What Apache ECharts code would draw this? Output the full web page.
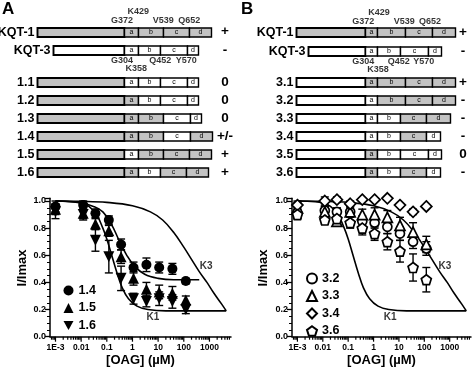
<!DOCTYPE html>
<html><head><meta charset="utf-8">
<script src="https://cdn.jsdelivr.net/npm/echarts@6/dist/echarts.min.js"></script>
<style>html,body{margin:0;padding:0;background:#fff}#c{width:474px;height:372px}</style>
</head><body><div id="c"></div>
<script>
// ---------- construct schematics ----------
const rowsA = ['KQT-1','KQT-3','1.1','1.2','1.3','1.4','1.5','1.6'];
const scoresA = ['+','-','0','0','0','+/-','+','+'];
const originA = [[1,1,1,1],[3,3,3,3],[3,3,3,3],[1,3,3,3],[1,1,3,3],[1,1,3,1],[3,1,1,1],[1,3,1,1]];
const bodyOriginA = [1,3,1,1,1,1,1,1];
const bodyStartA = [0,15.4,0,0,0,0,0,0];
const bodyEndA = 86.7;
const segLenA1 = [14.3,25,26,21.4];
const segLenA3 = [14.3,22,27,11];

const rowsB = ['KQT-1','KQT-3','3.1','3.2','3.3','3.4','3.5','3.6'];
const scoresB = ['+','-','+','-','-','-','0','-'];
const originB = [[1,1,1,1],[3,3,3,3],[1,1,1,1],[3,1,1,1],[3,3,1,1],[3,3,1,3],[1,3,3,3],[1,3,1,3]];
const bodyOriginB = [1,3,3,3,3,3,3,3];
const bodyStartB = [0,11.4,0,0,0,0,0,0];
const bodyEndB = 69;
const segLenB1 = [11.7,28.3,26.7,23.3];
const segLenB3 = [11.7,22.7,28,13.3];

const segNames = ['a','b','c','d'];
const residuesK1 = ['G372','K429','V539','Q652'];
const residuesK3 = ['G304','K358','Q452','Y570'];

// ---------- OAG dose-response ----------
const oag = [0.001,0.012,0.036,0.12,0.36,1.1,3.5,11,36,120];
const y14 = [0.96,0.97,0.91,0.86,0.68,0.51,0.53,0.51,0.50,0.41];
const e14 = [0.04,0.03,0.03,0.03,0.04,0.04,0.05,0.04,0.04,0.02];
const y15 = [0.94,0.91,0.83,0.78,0.59,0.43,0.35,0.33,0.32,0.27];
const e15 = [0.04,0.04,0.04,0.04,0.05,0.05,0.05,0.05,0.05,0.03];
const y16 = [0.92,0.90,0.71,0.59,0.43,0.28,0.26,0.28,0.26,0.20];
const e16 = [0.05,0.04,0.08,0.12,0.09,0.04,0.04,0.05,0.05,0.03];

const y32 = [0.91,0.93,0.92,0.92,0.85,0.84,0.81,0.76,0.70,0.65];
const e32 = [0.04,0.03,0.03,0.03,0.04,0.04,0.05,0.05,0.05,0.05];
const y33 = [0.95,0.92,0.85,0.92,0.90,0.90,0.88,0.82,0.77,0.68];
const e33 = [0.04,0.04,0.03,0.04,0.04,0.05,0.05,0.06,0.07,0.06];
const y34 = [0.97,1.00,1.01,0.98,1.01,1.01,1.02,0.97,0.92,0.96];
const e34 = [0.03,0.03,0.02,0.02,0.01,0.01,0.01,0.01,0.02,0];
const y36 = [0.90,0.86,0.87,0.84,0.80,0.76,0.70,0.63,0.51,0.42];
const e36 = [0.03,0.03,0.04,0.04,0.05,0.05,0.06,0.08,0.10,0.09];

// fitted curves
const k1X = [0.001,0.005,0.01,0.02,0.04,0.07,0.1,0.15,0.25,0.4,0.7,1.5,4,20,4500];
const k1Y = [1.0,0.995,0.985,0.96,0.90,0.80,0.72,0.61,0.47,0.36,0.28,0.225,0.20,0.19,0.19];
const k3X = [0.001,0.01,0.1,1,5,15,40,100,200,400,800,1500,3000,4500];
const k3Y = [1.0,0.998,0.99,0.965,0.92,0.86,0.77,0.66,0.57,0.48,0.40,0.32,0.24,0.19];
const f14X = [0.001,0.01,0.03,0.07,0.15,0.3,0.6,1.2,3,10,40,400];
const f14Y = [1.0,0.985,0.96,0.92,0.83,0.71,0.60,0.52,0.46,0.43,0.42,0.42];

const xTickValues = [0.001,0.01,0.1,1,10,100,1000];
const xTickLabels = ['1E-3','0.01','0.1','1','10','100','1000'];

// ---------- styling ----------
const FONT = 'Liberation Sans, Arial, Helvetica, sans-serif';
const GRAY = '#c3c3c3';
const XMIN = Math.pow(10,-3.214), XMAX = Math.pow(10,3.84);
const BAR_H = 9;

function zip(xs, ys){ return xs.map((x,i)=>[x, ys[i]]); }
function zip3(xs, ys, es){ return xs.map((x,i)=>[x, ys[i], es[i]]); }
const pick = (arr, idx)=>idx.map(i=>arr[i]);

// construct rows drawn as rectangles on a value (x) / category (y) grid
function buildConstruct(rows, origin, bodyOrigin, bodyStart, bodyEnd, seg1, seg3, ax){
  const items = [];
  rows.forEach((r,i)=>{
    items.push({row:i, x0:bodyStart[i], x1:bodyEnd, gray:bodyOrigin[i]===1, body:true, text:r});
    let x = bodyEnd;
    for(let s=0;s<4;s++){
      const o = origin[i][s], w = (o===1?seg1:seg3)[s];
      items.push({row:i, x0:x, x1:x+w, gray:o===1, body:false, text:segNames[s]});
      x += w;
    }
  });
  return {type:'custom', xAxisIndex:ax, yAxisIndex:ax, silent:true, z:2, clip:false,
    data: items.map(it=>[it.x0, it.row, it.x1]),
    renderItem:(params, api)=>{
      const it = items[params.dataIndex];
      const p0 = api.coord([api.value(0), api.value(1)]), p1 = api.coord([api.value(2), api.value(1)]);
      const x0 = Math.round(p0[0]) + 0.5, x1 = Math.round(p1[0]) + 0.5, yc = Math.round(p0[1]);
      const children = [{type:'rect', shape:{x:x0, y:yc-BAR_H/2+0.5, width:x1-x0, height:BAR_H},
        style:{fill:it.gray?GRAY:'#fff', stroke:'#000', lineWidth:it.body?1.9:1.4}}];
      if(it.body){
        children.push({type:'text', x:x0-3, y:yc+0.5, style:{text:it.text, font:'bold 12.5px '+FONT, fill:'#000', align:'right', verticalAlign:'middle'}});
      } else {
        children.push({type:'text', x:(x0+x1)/2, y:yc+0.5, style:{text:it.text, font:'7px '+FONT, fill:'#000', align:'center', verticalAlign:'middle'}});
      }
      return {type:'group', children};
    }};
}
function cum(bodyEnd, seg){ const r=[bodyEnd]; let v=bodyEnd; for(let i=0;i<3;i++){v+=seg[i]; r.push(v);} return r; }
function residueSeries(names, xs, row, ax, offsets){
  return {type:'scatter', xAxisIndex:ax, yAxisIndex:ax, symbolSize:1, silent:true, z:5,
    itemStyle:{color:'rgba(0,0,0,0)'},
    data: names.map((n,i)=>({value:[xs[i], row], label:{offset:offsets[i]}})),
    label:{show:true, position:'inside', formatter:p=>names[p.dataIndex],
      fontFamily:FONT, fontWeight:'bold', fontSize:9, color:'#000'}};
}

function errRender(params, api){
  const x = api.value(0), y = api.value(1), e = api.value(2);
  if(!e) return null;
  const t = api.coord([x, y+e]), b = api.coord([x, y-e]);
  const w = 4, st = {stroke:'#000', lineWidth:1.4};
  return {type:'group', children:[
    {type:'line', shape:{x1:t[0],y1:t[1],x2:b[0],y2:b[1]}, style:st},
    {type:'line', shape:{x1:t[0]-w,y1:t[1],x2:t[0]+w,y2:t[1]}, style:st},
    {type:'line', shape:{x1:b[0]-w,y1:b[1],x2:b[0]+w,y2:b[1]}, style:st}
  ]};
}
// tick marks of the log axis (decades and 2..9 subdivisions)
const logTicks = [];
for(let k=-4;k<=3;k++){ for(let m=1;m<=9;m++){ const v=m*Math.pow(10,k); if(v>=XMIN && v<=XMAX) logTicks.push([v, m===1?1:0]); } }
function tickRender(params, api){
  const p = api.coord([api.value(0), 0]);
  const len = api.value(1) ? 5 : 3;
  return {type:'line', shape:{x1:p[0],y1:p[1],x2:p[0],y2:p[1]+len}, style:{stroke:'#000', lineWidth:1.2}};
}

const filled = (sym,size)=>({symbol:sym, symbolSize:size, itemStyle:{color:'#000', opacity:1}});
const open = (sym,size)=>({symbol:sym, symbolSize:size, itemStyle:{color:'#fff', borderColor:'#000', borderWidth:1.7, opacity:1}});
const INV_TRI = 'path://M0,0L10,0L5,9Z';
const PENT = 'path://M5,0L10,3.7L8.1,9.6L1.9,9.6L0,3.7Z';

function dataSeries(name, ax, ys, es, sty){
  return [
    {type:'custom', xAxisIndex:ax, yAxisIndex:ax, silent:true, z:3, renderItem:errRender, data:zip3(oag, ys, es)},
    Object.assign({type:'scatter', name, xAxisIndex:ax, yAxisIndex:ax, z:4, silent:true, data:zip(oag, ys)}, sty)
  ];
}
function curve(ax, xs, ys){
  return {type:'line', xAxisIndex:ax, yAxisIndex:ax, showSymbol:false, symbol:'none', smooth:0.4, silent:true, z:2,
    lineStyle:{color:'#000', width:1.6}, data:zip(xs, ys)};
}
function curveLabel(ax, x, y, text){
  return {type:'scatter', xAxisIndex:ax, yAxisIndex:ax, symbolSize:1, silent:true, z:5, itemStyle:{color:'rgba(0,0,0,0)'},
    data:[[x,y]], label:{show:true, position:'inside', formatter:text, fontFamily:FONT, fontWeight:'bold', fontSize:10, color:'#000'}};
}

const headerA = [0,1], consA=[2,3,4,5,6,7];

const grids = [
  {left:37.3, top:22.25, width:180, height:37},
  {left:37.3, top:73, width:180, height:108},
  {left:296.3, top:22.5, width:165, height:38},
  {left:296.3, top:73, width:165, height:108},
  {left:50, top:198.3, width:181, height:138.4},
  {left:292, top:198.3, width:180, height:138.4}
];
const xAxes = [0,1,2,3].map(i=>({gridIndex:i, type:'value', min:0, max:i<2?180:165, show:false}));
const yAxes = [
  [rowsA, scoresA, headerA, 0, 7.7], [rowsA, scoresA, consA, 1, 7.7],
  [rowsB, scoresB, headerA, 2, 1.7], [rowsB, scoresB, consA, 3, 1.7]
].map(([rows, sc, idx, g, m])=>({gridIndex:g, type:'category', inverse:true, position:'right', data:pick(rows, idx),
  axisLine:{show:false}, axisTick:{show:false}, splitLine:{show:false},
  axisLabel:{interval:0, hideOverlap:false, margin:m, align:'center', formatter:(v,i)=>pick(sc, idx)[i], fontFamily:FONT, fontWeight:'bold', fontSize:13.5, color:'#000'}}));

function plotXAxis(g){
  return {gridIndex:g, type:'log', logBase:10, min:XMIN, max:XMAX,
    name:'[OAG] (\u00b5M)', nameLocation:'middle', nameGap:17,
    nameTextStyle:{fontFamily:FONT, fontWeight:'bold', fontSize:13, color:'#000'},
    axisLine:{lineStyle:{color:'#000', width:1.5}}, axisTick:{show:false}, splitLine:{show:false}, minorTick:{show:false},
    axisLabel:{margin:6, fontFamily:FONT, fontWeight:'bold', fontSize:8.5, color:'#000', showMinLabel:true, showMaxLabel:true,
      formatter:v=>{ for(let i=0;i<xTickValues.length;i++){ if(Math.abs(Math.log10(v)-Math.log10(xTickValues[i]))<1e-6) return xTickLabels[i]; } return ''; }}};
}
function plotYAxis(g){
  return {gridIndex:g, type:'value', min:0, max:1.02, interval:0.2,
    axisLine:{show:true, lineStyle:{color:'#000', width:1.5}},
    axisTick:{show:true, length:5, lineStyle:{color:'#000', width:1.3}},
    minorTick:{show:true, splitNumber:4, length:3, lineStyle:{color:'#000', width:1}},
    splitLine:{show:false},
    axisLabel:{margin:4, fontFamily:FONT, fontWeight:'bold', fontSize:9, color:'#000',
      formatter:v=> Math.abs(v*5-Math.round(v*5))<1e-6 ? v.toFixed(1) : ''}};
}
xAxes.push(plotXAxis(4), plotXAxis(5));
yAxes.push(plotYAxis(4), plotYAxis(5));

const series = [];
series.push(buildConstruct(pick(rowsA,headerA), pick(originA,headerA), pick(bodyOriginA,headerA), pick(bodyStartA,headerA), bodyEndA, segLenA1, segLenA3, 0));
series.push(buildConstruct(pick(rowsA,consA), pick(originA,consA), pick(bodyOriginA,consA), pick(bodyStartA,consA), bodyEndA, segLenA1, segLenA3, 1));
series.push(buildConstruct(pick(rowsB,headerA), pick(originB,headerA), pick(bodyOriginB,headerA), pick(bodyStartB,headerA), bodyEndB, segLenB1, segLenB3, 2));
series.push(buildConstruct(pick(rowsB,consA), pick(originB,consA), pick(bodyOriginB,consA), pick(bodyStartB,consA), bodyEndB, segLenB1, segLenB3, 3));

series.push(residueSeries(residuesK1, cum(bodyEndA, segLenA1), 'KQT-1', 0, [[-2,-11],[0,-20],[0,-11],[0,-11]]));
series.push(residueSeries(residuesK3, cum(bodyEndA, segLenA3), 'KQT-3', 0, [[-2,11],[-2,18.5],[0,11],[-1,11]]));
series.push(residueSeries(residuesK1, cum(bodyEndB, segLenB1), 'KQT-1', 2, [[-2,-10.5],[2,-19.5],[-1,-10.5],[-2,-10.5]]));
series.push(residueSeries(residuesK3, cum(bodyEndB, segLenB3), 'KQT-3', 2, [[-2,10.5],[1,19],[-1,10.5],[-4,10.5]]));

// plots
[4,5].forEach(ax=>series.push({type:'custom', xAxisIndex:ax, yAxisIndex:ax, silent:true, z:1, renderItem:tickRender, data:logTicks}));
series.push(curve(4, k3X, k3Y), curve(4, k1X, k1Y), curve(4, f14X, f14Y));
series.push(curve(5, k3X, k3Y), curve(5, k1X, k1Y));
series.push(...dataSeries('1.4', 4, y14, e14, filled('circle', 10)));
series.push(...dataSeries('1.5', 4, y15, e15, filled('triangle', 11)));
series.push(...dataSeries('1.6', 4, y16, e16, filled(INV_TRI, 11)));
series.push(...dataSeries('3.2', 5, y32, e32, open('circle', 9)));
series.push(...dataSeries('3.3', 5, y33, e33, open('triangle', 10)));
series.push(...dataSeries('3.4', 5, y34, e34, open('diamond', 11)));
series.push(...dataSeries('3.6', 5, y36, e36, open(PENT, 10)));
series.push(curveLabel(4, 750, 0.52, 'K3'), curveLabel(4, 6.3, 0.147, 'K1'));
series.push(curveLabel(5, 650, 0.52, 'K3'), curveLabel(5, 4.5, 0.145, 'K1'));

const legendBase = {orient:'vertical', itemWidth:10, itemHeight:10, itemGap:4.5, padding:0, selectedMode:false,
  textStyle:{fontFamily:FONT, fontWeight:'bold', fontSize:12.5, color:'#000'}};

const chart = echarts.init(document.getElementById('c'), null, {renderer:'canvas'});
chart.setOption({
  animation:false,
  backgroundColor:'#fff',
  grid: grids,
  xAxis: xAxes,
  yAxis: yAxes,
  legend:[
    Object.assign({left:63.5, top:284, data:['1.4','1.5','1.6']}, legendBase),
    Object.assign({left:306, top:272, data:['3.2','3.3','3.4','3.6']}, legendBase)
  ],
  graphic:[
    {type:'text', left:2, top:1, style:{text:'A', font:'bold 17px '+FONT, fill:'#000'}},
    {type:'text', left:241, top:1, style:{text:'B', font:'bold 17px '+FONT, fill:'#000'}},
    {type:'text', x:22, y:268, rotation:Math.PI/2, style:{text:'I/Imax', font:'bold 13px '+FONT, fill:'#000', align:'center', verticalAlign:'middle'}},
    {type:'text', x:263, y:268, rotation:Math.PI/2, style:{text:'I/Imax', font:'bold 13px '+FONT, fill:'#000', align:'center', verticalAlign:'middle'}}
  ],
  series
});
</script></body></html>
